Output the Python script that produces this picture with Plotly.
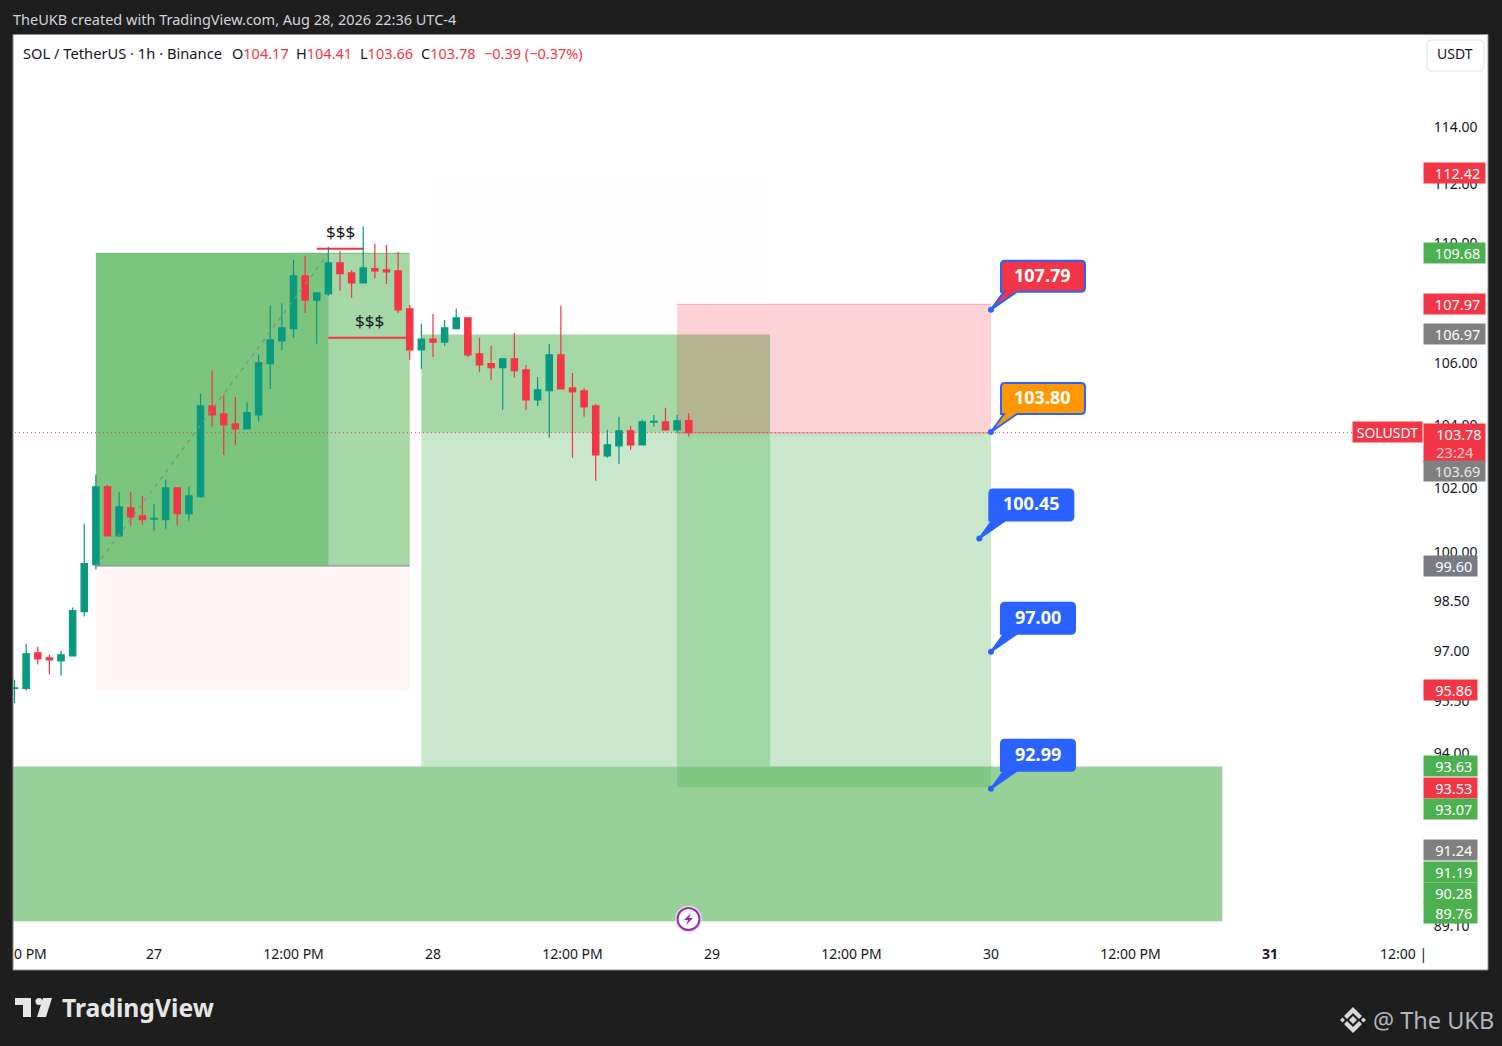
import math
import pandas as pd
import plotly.graph_objects as go

W, H = 1502, 1046

# hourly candles, SOL/USDT
opens = [95.91, 95.91, 96.97, 96.82, 96.73, 96.88, 98.21, 99.64, 102.06, 100.53,
         101.40, 101.15, 101.05, 101.03, 102.03, 101.22, 101.75, 104.64, 104.38, 104.06,
         103.90, 104.35, 106.01, 106.76, 107.16, 108.92, 108.11, 108.32, 109.36, 109.02,
         108.68, 109.16, 109.12, 109.09, 107.82, 106.46, 106.82, 106.72, 107.16, 107.52,
         106.33, 106.01, 105.88, 106.17, 105.81, 104.83, 105.13, 106.30, 105.22, 105.13,
         104.64, 103.04, 103.36, 103.84, 103.39, 104.12, 104.13, 103.87, 104.17]
highs = [96.17, 97.24, 97.15, 96.91, 97.03, 98.33, 100.91, 102.44, 102.13, 101.90,
         101.90, 101.78, 101.53, 102.28, 102.03, 102.06, 105.03, 105.78, 105.00, 104.93,
         104.74, 106.30, 107.92, 108.00, 109.46, 109.59, 108.35, 109.90, 109.76, 109.12,
         110.58, 110.00, 109.96, 109.73, 107.95, 107.32, 107.65, 107.45, 107.82, 107.52,
         106.86, 106.60, 106.20, 107.02, 105.97, 105.58, 106.66, 107.92, 105.71, 105.22,
         104.70, 103.87, 104.29, 104.00, 104.19, 104.35, 104.58, 104.35, 104.41]
lows = [95.47, 95.85, 96.62, 96.32, 96.29, 96.88, 98.06, 99.49, 100.53, 100.50,
        100.85, 100.88, 100.69, 100.75, 100.85, 101.00, 101.71, 103.97, 103.07, 103.39,
        103.90, 104.13, 105.19, 106.46, 106.86, 107.68, 106.66, 108.25, 108.42, 108.18,
        108.68, 108.85, 108.65, 107.68, 106.14, 105.84, 106.23, 106.60, 107.16, 106.23,
        105.75, 105.49, 104.51, 105.55, 104.51, 104.64, 103.62, 105.19, 102.98, 104.29,
        102.25, 102.98, 102.79, 103.23, 103.39, 103.97, 103.84, 103.78, 103.66]
closes = [95.93, 96.94, 96.79, 96.76, 96.91, 98.24, 99.67, 102.06, 100.53, 101.43,
          101.12, 101.03, 101.07, 102.03, 101.22, 101.78, 104.64, 104.35, 104.03, 103.90,
          104.42, 106.04, 106.79, 107.19, 108.92, 108.11, 108.35, 109.36, 108.99, 108.68,
          109.19, 109.09, 109.05, 107.78, 106.46, 106.82, 106.72, 107.19, 107.52, 106.30,
          105.97, 105.88, 106.17, 105.78, 104.83, 105.16, 106.30, 105.19, 105.09, 104.61,
          103.07, 103.39, 103.84, 103.39, 104.13, 104.14, 103.87, 104.16, 103.78]
times = pd.date_range("2026-08-26 12:00", periods=len(opens), freq="h")

price_ticks = [114, 112, 110, 106, 104, 102, 100, 98.5, 97, 95.5, 94, 89.1]
time_tick_labels = ["27", "12:00 PM", "28", "12:00 PM", "29", "12:00 PM", "30", "12:00 PM", "<b>31</b>"]

# price tags on the right scale: value, background colour
tag_prices = [112.42, 109.68, 107.97, 106.97, 99.60, 95.86, 93.63, 93.53, 93.07, 91.24, 91.19, 90.28, 89.76]
tag_colors = ["#f23645", "#4caf50", "#f23645", "#808080", "#787b86", "#f23645", "#4caf50",
              "#f23645", "#4caf50", "#808080", "#4caf50", "#4caf50", "#4caf50"]
# tags pushed down by the scale so they do not overlap
tag_push = {93.53: 18, 93.07: 23, 91.19: 19.5, 90.28: 8, 89.76: 10}

callout_prices = [107.79, 103.80, 100.45, 97.00, 92.99]
callout_colors = ["#f23645", "#ff9800", "#2962ff", "#2962ff", "#2962ff"]
callout_hours = [72, 72, 71, 72, 72]

# header pieces: label, value
ohlc_labels = ["O", "H", "L", "C"]
ohlc_values = ["104.17", "104.41", "103.66", "103.78"]
change_text = "−0.39 (−0.37%)"

GREEN, RED = "#089981", "#f23645"
BLUE = "#2962ff"
FONT = "Noto Sans"

base = pd.Timestamp("2026-08-27 00:00")


def at(h):
    # hours from midnight on the 27th to a timestamp
    return base + pd.Timedelta(hours=h)


def rect(h0, h1, p0, p1, color):
    return dict(type="rect", xref="x", yref="y", x0=at(h0), x1=at(h1), y0=p0, y1=p1,
                fillcolor=color, line=dict(width=0), layer="below")


def hline(h0, h1, p, color, width=2, dash="solid"):
    return dict(type="line", xref="x", yref="y", x0=at(h0), x1=at(h1), y0=p, y1=p,
                line=dict(color=color, width=width, dash=dash), layer="below")


def page_path(path, fill, line=None, width=0, layer="above"):
    # path in page pixels, y measured up from the top edge
    return dict(type="path", xref="paper", yref="paper", xsizemode="pixel", ysizemode="pixel",
                xanchor=0, yanchor=1, path=path, fillcolor=fill,
                line=dict(color=line or fill, width=width), layer=layer)


def rounded(x0, y0, x1, y1, r):
    return (f"M {x0+r} {-y0} L {x1-r} {-y0} Q {x1} {-y0} {x1} {-y0-r} L {x1} {-y1+r} Q {x1} {-y1} {x1-r} {-y1} "
            f"L {x0+r} {-y1} Q {x0} {-y1} {x0} {-y1+r} L {x0} {-y0-r} Q {x0} {-y0} {x0+r} {-y0} Z")


def callout_path(w):
    # rounded box with the tail running down to the anchor point
    x0, x1, y0, y1, r = 10, 10 + w, 18, 49, 4
    return (f"M 0 0 L {x0+3} {y0} L {x0} {y0} L {x0} {y1-r} Q {x0} {y1} {x0+r} {y1} L {x1-r} {y1} Q {x1} {y1} {x1} {y1-r} "
            f"L {x1} {y0+r} Q {x1} {y0} {x1-r} {y0} L {x0+16} {y0} Z")


def page_text(x, y, text, size=14, color="#131722", anchor="left", **kw):
    return dict(xref="paper", yref="paper", x=x / W, y=1 - y / H, text=text, showarrow=False,
                xanchor=anchor, yanchor="middle", font=dict(family=FONT, size=size, color=color), **kw)


fig = go.Figure()

# trend line from the low to the high of the run up
fig.add_trace(go.Scatter(x=[at(-5), at(15)], y=[99.60, 109.68], mode="lines",
                         line=dict(color="#868993", width=1.2, dash="4px,5px"), hoverinfo="skip"))
fig.add_trace(go.Candlestick(x=times, open=opens, high=highs, low=lows, close=closes,
                             increasing=dict(line=dict(color=GREEN, width=1.2), fillcolor=GREEN),
                             decreasing=dict(line=dict(color=RED, width=1.2), fillcolor=RED),
                             whiskerwidth=0))
fig.add_trace(go.Scatter(x=[at(h) for h in callout_hours], y=callout_prices, mode="markers",
                         marker=dict(color=BLUE, size=6), hoverinfo="skip"))

shapes = [
    # dark frame holds a white panel
    dict(type="rect", xref="paper", yref="paper", x0=13 / W, x1=1488 / W, y0=1 - 970 / H, y1=1 - 34.5 / H,
         fillcolor="#ffffff", line=dict(color="#8a8a8a", width=1), layer="below"),
    rect(23, 53, 106.97, 112.42, "#fffdfe"),
    rect(-5, 22, 99.60, 109.68, "rgba(76,175,80,0.5)"),
    rect(-5, 15, 99.60, 109.68, "rgba(76,175,80,0.45)"),
    rect(-5, 22, 95.86, 99.60, "#fff5f5"),
    hline(-5, 22, 109.68, "rgba(76,175,80,0.7)", 1),
    hline(-5, 22, 99.60, "#868993", 1),
    rect(23, 53, 103.78, 106.97, "rgba(76,175,80,0.5)"),
    rect(23, 53, 93.63, 103.78, "rgba(76,175,80,0.3)"),
    rect(45, 72, 93.03, 103.78, "rgba(76,175,80,0.3)"),
    rect(-13, 91.9, 89.27, 93.63, "rgba(76,175,80,0.58)"),
    rect(45, 72, 103.78, 107.97, "rgba(242,54,69,0.21)"),
    hline(45, 72, 107.97, "rgba(242,54,69,0.35)", 1),
    hline(45, 72, 103.78, "rgba(242,54,69,0.35)", 1.5),
    hline(-13, 110, 103.78, "#f23645", 1, "1px,3px"),
    hline(14, 18, 109.83, RED),
    hline(15, 22, 106.86, RED),
    # USDT button
    page_path(rounded(1427, 40, 1484, 71, 4), "#ffffff", "#e0e3eb", 1),
    # TradingView mark
    page_path("M 15 -998 L 31 -998 L 31 -1017 L 23 -1017 L 23 -1005 L 15 -1005 Z", "#e6e6e6"),
    page_path("M 43 -998 L 52 -998 L 46 -1017 L 37 -1017 Z", "#e6e6e6"),
    page_path("M 35.5 -1001.5 Q 35.5 -998 39 -998 Q 42.5 -998 42.5 -1001.5 Q 42.5 -1005 39 -1005 Q 35.5 -1005 35.5 -1001.5 Z", "#e6e6e6"),
    # exchange mark beside the signature
    page_path("M 1353 -1007 L 1362 -1016 L 1359 -1019 L 1353 -1013 L 1347 -1019 L 1344 -1016 Z", "#d8d8d8"),
    page_path("M 1353 -1033 L 1362 -1024 L 1359 -1021 L 1353 -1027 L 1347 -1021 L 1344 -1024 Z", "#d8d8d8"),
    page_path("M 1353 -1016 L 1357 -1020 L 1353 -1024 L 1349 -1020 Z", "#d8d8d8"),
    page_path("M 1340 -1020 L 1342.5 -1017.5 L 1345 -1020 L 1342.5 -1022.5 Z", "#d8d8d8"),
    page_path("M 1361 -1020 L 1363.5 -1017.5 L 1366 -1020 L 1363.5 -1022.5 Z", "#d8d8d8"),
    # news marker on the bottom edge
    dict(type="circle", xref="paper", yref="paper", x0=675.5 / W, x1=701.5 / W, y0=1 - 932 / H, y1=1 - 906 / H,
         fillcolor="#ffffff", line=dict(color="#d9d9e3", width=1), layer="above"),
    dict(type="circle", xref="paper", yref="paper", x0=677.5 / W, x1=699.5 / W, y0=1 - 930 / H, y1=1 - 908 / H,
         fillcolor="#ffffff", line=dict(color="#9c27b0", width=2), layer="above"),
    page_path("M 691 -913 L 684 -920 L 688 -920 L 686 -925 L 693 -918 L 689 -918 Z", "#9c27b0"),
]
for price, color, hour in zip(callout_prices, callout_colors, callout_hours):
    shapes.append(dict(type="path", xref="x", yref="y", xsizemode="pixel", ysizemode="pixel",
                       xanchor=at(hour), yanchor=price,
                       path=callout_path(84 if price > 100 else 74), fillcolor=color,
                       line=dict(color=BLUE, width=2), layer="above"))

annotations = [
    page_text(11, 19, "TheUKB created with TradingView.com, Aug 28, 2026 22:36 UTC-4", size=14.5, color="#d1d4dc"),
    page_text(21, 53, "SOL / TetherUS · 1h · Binance", size=14.7),
    page_text(482, 53, f"<span style=\"color:{RED}\">{change_text}</span>", size=14.5),
    page_text(1455, 54, "USDT", anchor="center"),
    page_text(12, 953, "0 PM"),
    page_text(1378, 953, "12:00 |"),
    page_text(60, 1007, "<b>TradingView</b>", size=24.7, color="#e6e6e6"),
    page_text(1371, 1020, "@ The UKB", size=23.5, color="#b2b5be"),
    page_text(340, 231, "$$$", size=17, anchor="center"),
    page_text(369, 321, "$$$", size=17, anchor="center"),
    # last price block
    dict(xref="paper", yref="y", x=1352 / W, y=math.log10(103.78), yshift=1, text="SOLUSDT", showarrow=False, xanchor="left",
         width=67, height=18, bgcolor=RED, font=dict(family=FONT, size=14, color="#ffffff")),
    dict(xref="paper", yref="y", x=1423 / W, y=math.log10(103.78), yshift=-10,
         text="\u00a0\u00a0\u00a0103.78<br>\u00a0\u00a0\u00a0<span style=\"color:#fcc8cc\">23:24</span>",
         showarrow=False, xanchor="left", width=59, height=36, align="left", bgcolor=RED,
         font=dict(family=FONT, size=14.5, color="#ffffff")),
    dict(xref="paper", yref="y", x=1423 / W, y=math.log10(103.69), yshift=-36, text="103.69\u00a0", showarrow=False,
         xanchor="left", width=59, height=18, align="right", bgcolor="#808080",
         font=dict(family=FONT, size=14.5, color="#e8e8e8")),
]
# header values sit at fixed spots along the legend line
for x, label, value in zip([230, 294, 358, 419], ohlc_labels, ohlc_values):
    annotations.append(page_text(x, 53, f"{label}<span style=\"color:{RED}\">{value}</span>", size=14.5))
for price, color in zip(tag_prices, tag_colors):
    annotations.append(dict(xref="paper", yref="y", x=1423 / W, y=math.log10(price),
                            yshift=-tag_push.get(price, 0), text=f"{price:.2f}\u00a0",
                            showarrow=False, xanchor="left", align="right",
                            width=59 if price >= 100 else 51, height=18, bgcolor=color,
                            font=dict(family=FONT, size=14.5, color="#ffffff")))
for price, hour in zip(callout_prices, callout_hours):
    w = 84 if price > 100 else 74
    annotations.append(dict(x=at(hour), y=math.log10(price), xshift=10 + w / 2, yshift=35,
                            text=f"<b>{price:.2f}</b>", showarrow=False,
                            font=dict(family=FONT, size=18, color="#ffffff")))

fig.update_layout(
    width=W, height=H, margin=dict(l=0, r=0, t=0, b=0),
    paper_bgcolor="#1e1e1e", plot_bgcolor="#ffffff", showlegend=False,
    boxgap=0.22, shapes=shapes, annotations=annotations,
    font=dict(family=FONT, size=14, color="#131722"),
    xaxis=dict(domain=[13 / W, 1422 / W], range=[at(-12.13), at(109.08)], rangeslider=dict(visible=False),
               showgrid=False, zeroline=False, showline=False, ticks="outside", ticklen=2, tickcolor="rgba(0,0,0,0)",
               tickmode="array", tickvals=[at(12 * i) for i in range(len(time_tick_labels))], ticktext=time_tick_labels,
               tickangle=0),
    yaxis=dict(domain=[1 - 939 / H, 1 - 36 / H], type="log", side="right", range=[math.log10(88.78), math.log10(117.28)],
               showgrid=False, zeroline=False, showline=False, ticks="outside", ticklen=8, tickcolor="rgba(0,0,0,0)",
               tickmode="array", tickvals=price_ticks, ticktext=[f"{v:.2f}" for v in price_ticks],
               ticklabelshift=-1),
)

fig.write_html("out.html", config={"displayModeBar": False}, post_script="document.body.style.margin='0';")
